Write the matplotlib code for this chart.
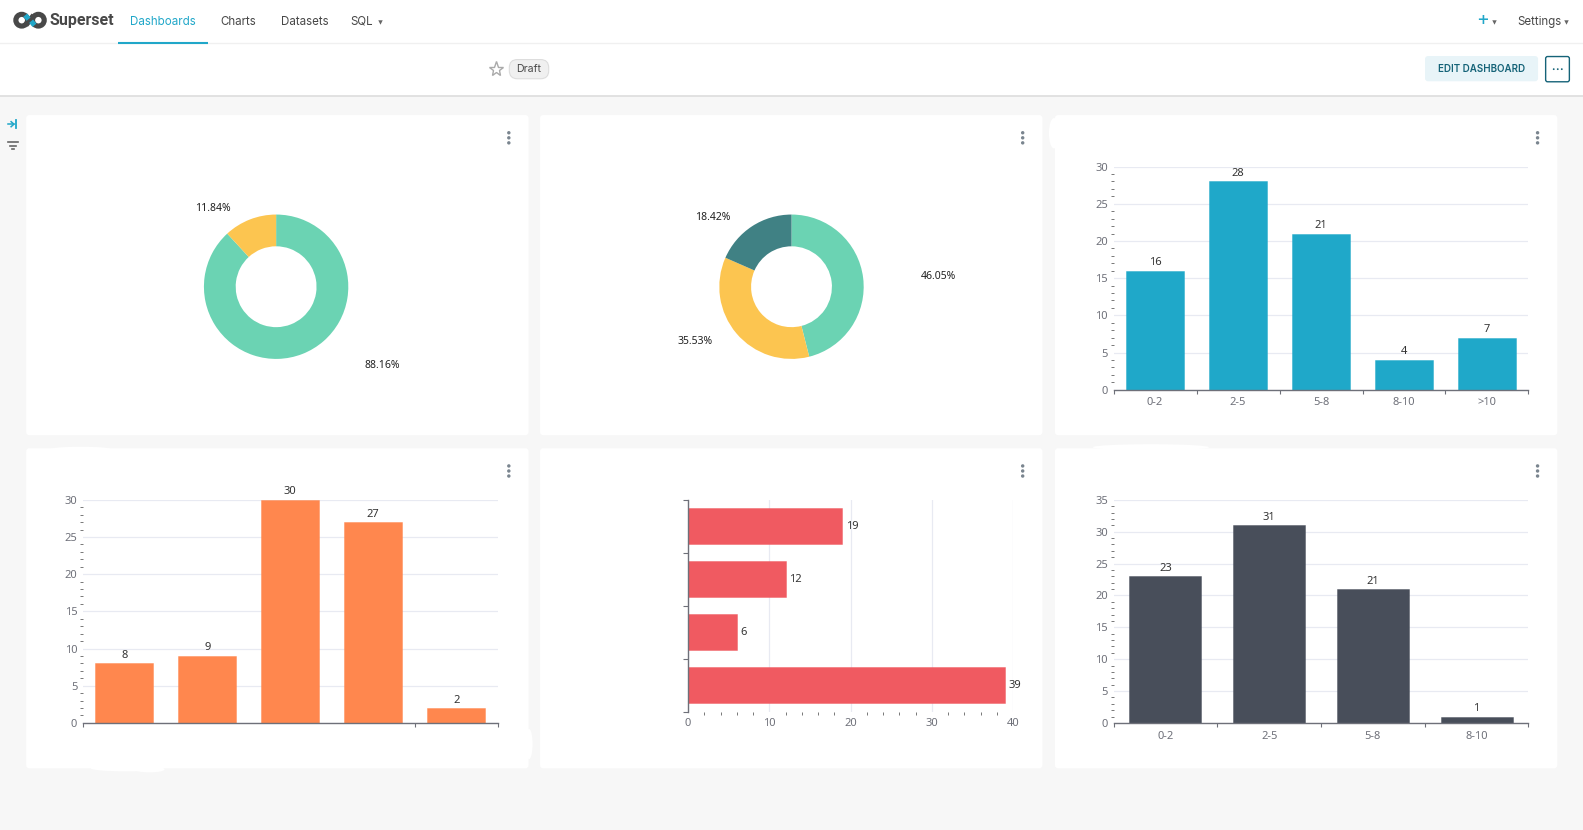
import numpy as np
import matplotlib
matplotlib.use("Agg")
import matplotlib.pyplot as plt
from matplotlib.colors import to_rgba
from matplotlib.patches import FancyBboxPatch, Ellipse, Circle, Rectangle

plt.rcParams["font.family"] = ["Noto Sans", "DejaVu Sans"]

# Datos
pie1_values = [88.16, 11.84]
pie1_labels = ["88.16%", "11.84%"]
pie1_colors = ["#6BD3B3", "#FCC550"]

pie2_values = [46.05, 35.53, 18.42]
pie2_labels = ["46.05%", "35.53%", "18.42%"]
pie2_colors = ["#6BD3B3", "#FCC550", "#408184"]

bar1_cats = ["0-2", "2-5", "5-8", "8-10", ">10"]
bar1_values = [16, 28, 21, 4, 7]

bar2_cats = ["", "", "", "", ""]
bar2_values = [8, 9, 30, 27, 2]

hbar_values = [19, 12, 6, 39]

bar3_cats = ["0-2", "2-5", "5-8", "8-10"]
bar3_values = [23, 31, 21, 1]

W, H = 1568, 822.1
TEXT = "#484848"
TICK = "#6E7079"
GRID = "#E8EAF2"
AXIS = "#6E7079"

fig = plt.figure(figsize=(15.83, 8.30), dpi=100, facecolor="#F7F7F7")

# Capa de fondo en pixeles
bg = fig.add_axes([0, 0, 1, 1], zorder=0)
bg.set_xlim(0, W)
bg.set_ylim(H, 0)
bg.axis("off")

bg.add_patch(Rectangle((0, 0), W, 95, fc="white", ec="none"))
bg.plot([0, W], [42.5, 42.5], color="#F0F0F0", lw=1)
bg.plot([0, W], [95, 95], color="#DDDDDD", lw=1.2)
bg.plot([117, 206], [42.3, 42.3], color="#20A7C9", lw=1.5, solid_capstyle="butt")

panels = [(26, 114), (535, 114), (1045, 114), (26, 444), (535, 444), (1045, 444)]
for px, py in panels:
    bg.add_patch(FancyBboxPatch((px + 3, py + 3), 491.5, 311,
                                boxstyle="round,pad=3,rounding_size=3",
                                fc="white", ec="none"))
    for dy in (-5, 0, 5):
        bg.add_patch(Circle((px + 478, py + 22.5 + dy), 1.7, fc="#7A858F", ec="none"))

# Manchas blancas del original
blobs = [(80, 445, 60, 5), (125, 761, 70, 6), (148, 762, 30, 6), (524, 737, 7, 30),
         (1044, 132, 10, 30), (1140, 443, 115, 6)]
for cx, cy, ew, eh in blobs:
    bg.add_patch(Ellipse((cx, cy), ew, eh, fc="white", ec="none"))

# Logo
for cx in (21.5, 38):
    bg.add_patch(Circle((cx, 20), 5.8, fc="none", ec="#484848", lw=3.7))
bg.plot([25.5, 33.5], [24.8, 15.2], color="#484848", lw=4, solid_capstyle="butt")
bg.plot([25, 28.3], [15, 19], color="#20A7C9", lw=3.7, solid_capstyle="butt")
bg.plot([30.8, 34.2], [21, 25], color="#20A7C9", lw=3.7, solid_capstyle="butt")
bg.text(49, 20.5, "Superset", fontsize=11.5, color="#484848", fontweight="bold",
        family="Roboto", va="center", ha="left")

# Barra de navegacion
nav = [("Dashboards", 161.5, "#20A7C9"), ("Charts", 235.5, TEXT), ("Datasets", 302, TEXT),
       ("SQL", 358.5, TEXT), ("Settings", 1524.5, TEXT)]
for label, x, c in nav:
    bg.text(x, 21.5, label, fontsize=8.3, color=c, family="Inter", ha="center", va="center")
for x in (376, 1480, 1551.5):
    bg.plot([x], [21.5], marker="v", ms=3.2, color="#666666", mec="none")
bg.text(1469, 20, "+", fontsize=14, color="#20A7C9", family="Inter", ha="center", va="center")

# Cabecera del dashboard
bg.plot([491.5], [68], marker="*", ms=11, mfc="white", mec="#AAAAAA", mew=1)
bg.add_patch(FancyBboxPatch((506.5, 61), 35, 15, boxstyle="round,pad=2,rounding_size=8",
                            fc="#F0F0F0", ec="#DDDDDD", lw=0.8))
bg.text(524, 68.5, "Draft", fontsize=7.6, color=TEXT, family="Inter", ha="center", va="center")
bg.add_patch(FancyBboxPatch((1414, 58), 107, 20, boxstyle="round,pad=2.5,rounding_size=3",
                            fc="#E8F4F8", ec="none"))
bg.text(1467.5, 68, "EDIT DASHBOARD", fontsize=7.0, color="#156378", family="Inter",
        fontweight="semibold", ha="center", va="center")
bg.add_patch(FancyBboxPatch((1533, 58), 19.5, 21, boxstyle="round,pad=2,rounding_size=2",
                            fc="white", ec="#156378", lw=1))
for x in (1539, 1543, 1547):
    bg.add_patch(Circle((x, 68.5), 0.9, fc="#156378", ec="none"))

# Iconos laterales
bg.plot([7.5, 13.5], [123, 123], color="#20A7C9", lw=1.1)
bg.plot([11, 13.8, 11], [120.5, 123, 125.5], color="#20A7C9", lw=1.1)
bg.plot([16, 16], [119, 127], color="#20A7C9", lw=1.3)
bg.plot([7.5, 17.5], [141, 141], color="#666666", lw=1.2)
bg.plot([9.5, 15.5], [144.5, 144.5], color="#666666", lw=1.2)
bg.plot([11.5, 13.5], [148, 148], color="#666666", lw=1.2)


def pixel_axes(x0, y0, x1, y1):
    return fig.add_axes([x0 / W, 1 - y1 / H, (x1 - x0) / W, (y1 - y0) / H],
                        zorder=2, facecolor="none")


def donut(cx, values, colors):
    ax = pixel_axes(cx - 71.5, 212.5, cx + 71.5, 355.5)
    ax.pie(values, colors=colors, startangle=90, counterclock=False, radius=1,
           wedgeprops=dict(width=0.44, edgecolor="none"))
    ax.set_xlim(-1, 1)
    ax.set_ylim(-1, 1)


donut(273.5, pie1_values, pie1_colors)
donut(784, pie2_values, pie2_colors)
for label, (x, y) in zip(pie1_labels, [(378.5, 362), (210.5, 207)]):
    bg.text(x, y, label, fontsize=7.5, color="#222222", ha="center", va="center")
for label, (x, y) in zip(pie2_labels, [(930, 274), (688, 338), (705.5, 215)]):
    bg.text(x, y, label, fontsize=7.5, color="#222222", ha="center", va="center")


def style_axes(ax):
    for s in ("top", "right"):
        ax.spines[s].set_visible(False)
    ax.set_axisbelow(True)
    ax.tick_params(labelsize=8, labelcolor=TICK, length=3.5, color=AXIS, width=0.8, pad=5)


def vbars(box, cats, values, color, ymax, step, boundaries=None):
    ax = pixel_axes(*box)
    x = np.arange(len(values))
    ax.bar(x, values, width=0.695, color=color, edgecolor=to_rgba(color, 0.45), linewidth=0.7)
    for xi, v in zip(x, values):
        ax.annotate(str(v), (xi, v), xytext=(0, 1.8), textcoords="offset points",
                    ha="center", va="bottom", fontsize=8, color="#333333")
    ax.set_xlim(-0.5, len(values) - 0.5)
    ax.set_ylim(0, ymax)
    style_axes(ax)
    ax.spines["left"].set_visible(False)
    ax.spines["bottom"].set_color(AXIS)
    ax.spines["bottom"].set_linewidth(1)
    ax.set_yticks(np.arange(0, ymax + 1, step))
    ax.set_yticks(np.arange(0, ymax + 0.5, 1), minor=True)
    ax.tick_params(axis="y", which="major", length=0, pad=4)
    ax.tick_params(axis="y", which="minor", length=2.5, color="#777777", width=0.7)
    if boundaries is None:
        boundaries = np.arange(-0.5, len(values))
    ax.set_xticks(boundaries, minor=False)
    ax.set_xticklabels([""] * len(boundaries))
    ax.tick_params(axis="x", length=3, color=AXIS)
    ax.set_xticks(x, labels=cats, minor=True)
    ax.tick_params(axis="x", which="minor", length=0, labelsize=8, labelcolor=TICK, pad=5.5)
    ax.yaxis.grid(True, color=GRID, lw=0.9)
    return ax


vbars((1103, 165, 1514, 386), bar1_cats, bar1_values, "#1FA8C9", 30, 5)
# en el original faltan las marcas centrales, tapadas de blanco
vbars((82, 495, 493, 716), bar2_cats, bar2_values, "#FF874E", 30, 5, boundaries=[-0.5, 3.5, 4.5])
vbars((1103, 495, 1514, 716), bar3_cats, bar3_values, "#484E5A", 35, 5)

# Barras horizontales
ax = pixel_axes(681.5, 495, 1003.5, 705)
y = np.arange(len(hbar_values))
ax.barh(y, hbar_values, height=0.685, color="#F05A61",
        edgecolor=to_rgba("#F05A61", 0.45), linewidth=0.7)
for yi, v in zip(y, hbar_values):
    ax.annotate(str(v), (v, yi), xytext=(2.8, -0.3), textcoords="offset points",
                ha="left", va="center", fontsize=8, color="#333333")
ax.set_xlim(0, 40)
ax.set_ylim(3.5, -0.5)
style_axes(ax)
ax.spines["bottom"].set_visible(False)
ax.spines["left"].set_color(AXIS)
ax.spines["left"].set_linewidth(1)
ax.set_yticks(np.arange(-0.5, 4), labels=[""] * 5)
ax.tick_params(axis="y", length=3.5, color=AXIS)
ax.set_xticks(np.arange(0, 41, 10))
ax.set_xticks(np.arange(0, 41, 2), minor=True)
ax.tick_params(axis="x", which="major", length=0, pad=4.8)
ax.tick_params(axis="x", which="minor", length=2.5, color="#777777", width=0.7)
ax.xaxis.grid(True, color=GRID, lw=0.9)

fig.savefig("out.png", dpi=100, facecolor=fig.get_facecolor())
